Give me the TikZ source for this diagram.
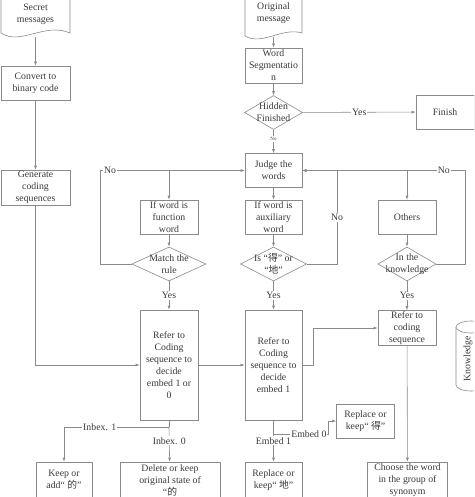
\documentclass[tikz,border=0pt]{standalone}
\usepackage{fontspec}
\setmainfont{Liberation Serif}
\newfontfamily\cjk{Noto Sans CJK SC}
\usepackage{tikz}
\usetikzlibrary{arrows.meta,shapes.geometric,calc}
\definecolor{linegray}{HTML}{8A8A8A}
\definecolor{txtgray}{HTML}{3A3A3A}
\newcommand\boxfont{\fontsize{9.8}{12}\selectfont}
\tikzset{
  procbox/.style={draw=linegray,fill=white,line width=0.6pt,align=center,
                  inner sep=1pt,font=\boxfont,text=txtgray},
  decision/.style={diamond,draw=linegray,fill=white,line width=0.6pt,
                   inner sep=0pt,minimum width=#1,minimum height=34pt},
  dtext/.style={align=center,font=\boxfont,text=txtgray,inner sep=0pt},
  docline/.style={draw=linegray,line width=0.6pt,fill=white},
  flowline/.style={draw=linegray,line width=0.6pt},
  flowarr/.style={-{Latex[length=4pt,width=3pt]},line width=0.6pt,
                  draw=linegray},
  lbl/.style={fill=white,inner sep=1pt,font=\boxfont,text=txtgray}
}

\begin{document}
\begin{tikzpicture}[x=1pt,y=-1pt]
    \clip (0,0) rectangle (474,497);
    % input documents
    \draw[docline] (1,-5) -- (1,33) .. controls (20,46) and (45,22) .. (70,33) -- (70,-5) -- cycle;
    \node[dtext] (secret) at (35.5,14) {Secret\\messages};
    \coordinate (secretbot) at (35.5,37);
    \draw[docline] (245,-5) -- (245,36) .. controls (262,46) and (282,27) .. (302,33) -- (302,-5) -- cycle;
    \node[dtext] (original) at (273.5,13) {Original\\message};
    \coordinate (origbot) at (273.5,37);

    % left column
    \node[procbox,minimum width=69pt,minimum height=34pt] (convert) at (35.5,83)
      {Convert to\\binary code};
    \node[procbox,minimum width=69pt,minimum height=35pt] (generate) at (35.5,187.5)
      {Generate\\coding\\sequences};

    % middle column
    \node[procbox,minimum width=57pt,minimum height=35pt] (wordseg) at (273.5,65.5)
      {Word\\Segmentatio\\n};
    \node[decision=58pt,label={[dtext]center:{Hidden\\Finished}}] (hidden) at (273.5,112.5) {};
    \node[procbox,minimum width=58pt,minimum height=34pt] (finish) at (445,112)
      {Finish};
    \node[procbox,minimum width=57pt,minimum height=34pt] (judge) at (273.5,170.5)
      {Judge the\\words};
    \node[procbox,minimum width=57pt,minimum height=34pt] (auxw) at (273.5,217)
      {If word is\\auxiliary\\word};
    \node[decision=66pt,label={[dtext]center:{Is “{\cjk 得}” or\\“{\cjk 地}”}}] (isde) at (273.5,264) {};
    \node[procbox,minimum width=57pt,minimum height=110pt] (refer2) at (273.5,365)
      {Refer to\\Coding\\sequence to\\decide\\embed 1};

    % function word branch
    \node[procbox,minimum width=58pt,minimum height=34pt] (funcw) at (169,217)
      {If word is\\function\\word};
    \node[decision=74pt,label={[dtext]center:{Match the\\rule}}] (match) at (169,264) {};
    \node[procbox,minimum width=58pt,minimum height=110pt] (refer1) at (169,365)
      {Refer to\\Coding\\sequence to\\decide\\embed 1 or\\0};

    % other words branch
    \node[procbox,minimum width=58pt,minimum height=34pt] (others) at (407,217)
      {Others};
    \node[decision=58pt,label={[dtext]center:{In the\\knowledge}}] (know) at (407,264) {};
    \node[procbox,minimum width=58pt,minimum height=34pt] (refer3) at (407,328)
      {Refer to\\coding\\sequence};
    % knowledge base
    \draw[docline] (456,327) -- (456,385) arc[start angle=180,end angle=0,x radius=15,y radius=6]
      -- (486,327);
    \draw[docline] (471,327) ellipse[x radius=15,y radius=6];
    \node[dtext,rotate=90] (kbase) at (468,359) {Knowledge};

    % results
    \node[procbox,minimum width=56pt,minimum height=36pt] (keep) at (64,480)
      {Keep or\\add“ {\cjk 的}”};
    \node[procbox,minimum width=100pt,minimum height=36pt] (delete) at (170,480)
      {Delete or keep\\original state of\\“{\cjk 的}};
    \node[procbox,minimum width=57pt,minimum height=36pt] (keepdi) at (273.5,480)
      {Replace or\\keep“ {\cjk 地}”};
    \node[procbox,minimum width=58pt,minimum height=34pt] (keepde) at (365.5,421)
      {Replace or\\keep“ {\cjk 得}”};
    \node[procbox,minimum width=80pt,minimum height=36pt] (choose) at (407.5,480)
      {Choose the word\\in the group of\\synonym};

    \coordinate (nol) at (100,170.5);
    \coordinate (nor) at (337,170.5);
    \coordinate (noe) at (465,170.5);
    \coordinate (split1) at (169,427);
    \coordinate (split2) at (273.5,434);
    \coordinate (e0) at (328,434);

    % connectors
    \draw[flowarr] (secretbot) -- (convert);
    \draw[flowarr] (convert) -- (generate);
    \draw[flowarr] (generate.south) |- (refer1.west);
    \draw[flowarr] (origbot) -- (wordseg);
    \draw[flowarr] (wordseg) -- (hidden);
    \draw[flowarr] (hidden) -- node[lbl]{Yes} (finish);
    \draw[flowarr] (hidden) -- node[lbl,font=\tiny,pos=0.4]{No} (judge);
    \draw[flowarr] (judge) -- (auxw);
    \draw[flowarr] (auxw) -- (isde);
    \draw[flowarr] (isde) -- node[lbl]{Yes} (refer2);
    \draw[flowarr] (match.west) -| (nol) -- node[lbl,pos=0.07]{No} (judge.west);
    \draw[flowarr] (funcw.north |- nol) -- (funcw);
    \draw[flowarr] (funcw) -- (match);
    \draw[flowarr] (match) -- node[lbl]{Yes} (refer1);
    \draw[flowarr] (isde.east) -| node[lbl,pos=0.75]{No} (nor) -- (judge.east);
    \draw[flowarr] (know.east) -| (noe) -- node[lbl,pos=0.13]{No} (judge.east);
    \draw[flowarr] (others.north |- noe) -- (others);
    \draw[flowarr] (others) -- (know);
    \draw[flowarr] (know) -- node[lbl]{Yes} (refer3);
    \draw[flowarr] (refer1) -- (refer2);
    \draw[flowarr] (refer2.east) -- ++(11,0) |- (refer3.west);
    \draw[flowarr] (refer3) -- (choose);
    \draw[flowline] (refer1.south) -- (split1);
    \draw[flowarr] (split1) -| node[lbl,pos=0.33]{Inbex. 1} (keep.north);
    \draw[flowarr] (split1) -- node[lbl,pos=0.4]{Inbex. 0} (delete);
    \draw[flowline] (refer2.south) -- (split2);
    \draw[flowarr] (split2) -- node[lbl,pos=0.25]{Embed 1} (keepdi);
    \draw[flowarr] (split2) -- node[lbl,pos=0.65]{Embed 0} (e0) |- (keepde.west);
\end{tikzpicture}
\end{document}
